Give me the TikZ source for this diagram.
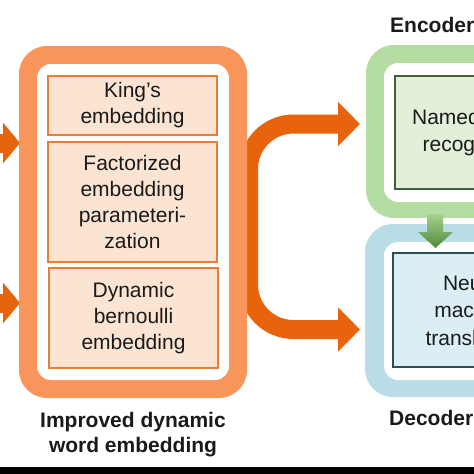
\documentclass[tikz,border=0pt]{standalone}
\usepackage{fontspec}
\setmainfont{Liberation Sans}
\usetikzlibrary{arrows.meta}
\definecolor{orangeB}{HTML}{F8955B}
\definecolor{peachF}{HTML}{FCE4D3}
\definecolor{peachL}{HTML}{E87D3A}
\definecolor{arrowO}{HTML}{E8640C}
\definecolor{greenB}{HTML}{B5DDA3}
\definecolor{greenF}{HTML}{E2F0D9}
\definecolor{greenL}{HTML}{3F5F3F}
\definecolor{greenA}{HTML}{A9D18E}
\definecolor{greenD}{HTML}{4E8A3A}
\definecolor{blueB}{HTML}{B8DDE6}
\definecolor{blueF}{HTML}{DAEEF3}
\definecolor{blueL}{HTML}{2E4E55}
\definecolor{txt}{HTML}{1A1A1A}
\begin{document}
\begin{tikzpicture}[x=1pt,y=-1pt,
  frame/.style={inner sep=0pt, rounded corners=28pt},
  whitein/.style={fill=white, inner sep=0pt, rounded corners=14pt},
  embbox/.style={draw=peachL, line width=1.2pt, fill=peachF, inner sep=0pt, minimum width=169pt,
     align=center, text=txt, font=\fontsize{21}{26}\selectfont},
  taskbox/.style={line width=1.2pt, inner sep=0pt, align=center, text=txt,
     font=\fontsize{21}{27.5}\selectfont},
  lbl/.style={font=\bfseries\fontsize{21}{25.5}\selectfont, text=txt, align=center, inner sep=0pt},
  inarrow/.style={arrowO, line width=19pt, -{Triangle[length=17pt,width=40pt]}},
  bigarrow/.style={arrowO, line width=19pt, rounded corners=45pt,
     {Triangle[length=22pt,width=43pt]}-{Triangle[length=22pt,width=43pt]}}
]
\useasboundingbox (0,0) rectangle (474,474);
\clip (0,0) rectangle (474,474);

% left incoming arrows
\coordinate (in1) at (-12,143);
\coordinate (in2) at (-12,303);
\coordinate (t1) at (20,143);
\coordinate (t2) at (20,303);
\draw[inarrow] (in1) -- (t1);
\draw[inarrow] (in2) -- (t2);

% big forked arrow
\coordinate (c1) at (360,124);
\coordinate (c2) at (360,329.5);
\draw[bigarrow] (c1) -- (248.5,124) -- (248.5,329.5) -- (c2);

% orange group
\node[frame, fill=orangeB, minimum width=228pt, minimum height=352pt] (emb) at (133,222) {};
\node[whitein, minimum width=192pt, minimum height=316pt] (embw) at (133,222) {};
\node[embbox, minimum height=59pt] (king) at (132.5,105.5) {King’s\\embedding};
\node[embbox, minimum height=120pt] (fact) at (132.5,202) {Factorized\\embedding\\parameteri-\\zation};
\node[embbox, minimum height=100pt] (dyn) at (133.5,318) {Dynamic\\bernoulli\\embedding};
\node[lbl] (embl) at (133,434.5) {Improved dynamic\\word embedding};

% green group
\node[frame, fill=greenB, minimum width=216pt, minimum height=173pt] (enc) at (474,131.5) {};
\node[whitein, minimum width=180pt, minimum height=139pt] (encw) at (474,132.5) {};
\node[taskbox, draw=greenL, fill=greenF, minimum width=158pt, minimum height=113pt] (ner) at (474,132.5) {Named entity\\recognition};
\node[lbl, anchor=west] (encl) at (390,25) {Encoder};

% blue group
\node[frame, fill=blueB, minimum width=218pt, minimum height=173pt] (dec) at (474,310.5) {};
\node[whitein, minimum width=180pt, minimum height=138pt] (decw) at (474,311) {};
\node[taskbox, draw=blueL, fill=blueF, minimum width=162pt, minimum height=114pt] (nmt) at (474,310) {Neural\\machine\\translation};
\node[lbl, anchor=west] (decl) at (389,418) {Decoder};

% green gradient arrow from encoder to decoder
\shade[top color=greenA, bottom color=greenD]
  (427,214) -- (443,214) -- (443,232) -- (453,232) -- (435.5,248) -- (418,232) -- (427,232) -- cycle;

% bottom black bar
\fill[black] (0,467) rectangle (474,474);
\end{tikzpicture}
\end{document}
